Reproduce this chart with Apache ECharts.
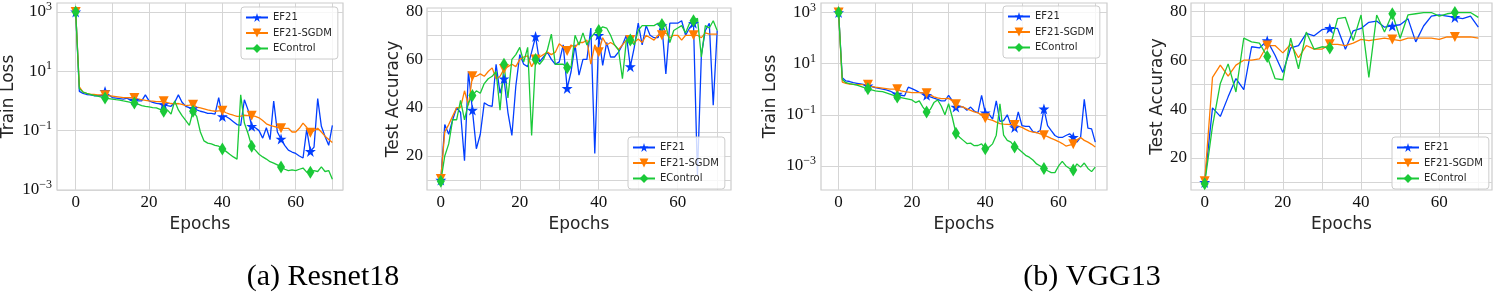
<!DOCTYPE html>
<html>
<head>
<meta charset="utf-8">
<script src="https://cdn.jsdelivr.net/npm/echarts@6/dist/echarts.min.js"></script>
<style>
html, body { margin: 0; padding: 0; background: #fff; }
#main { width: 1498px; height: 295px; }
</style>
</head>
<body>
<div id="main"></div>
<script>
const chartDom = document.getElementById('main');
const myChart = echarts.init(chartDom);

const SERIF = '"Liberation Serif", "DejaVu Serif", serif';
const SANS = '"DejaVu Sans", sans-serif';

// methods and their look
const methods = ['EF21', 'EF21-SGDM', 'EControl'];
const colors = ['#023eff', '#ff7c00', '#1ac938'];
const symbols = [
    'path://M50,0L61.8,35.1L98.9,35.1L68.9,56.8L80.3,91.9L50,70.2L19.7,91.9L31.1,56.8L1.1,35.1L38.2,35.1Z',
    'path://M0,0L10,0L5,9Z',
    'path://M5,0L9,10L5,20L1,10Z'
];
const symbolSizes = [11, 10, [8, 13]];

// tick positions
const epochGrid = [0, 10, 20, 30, 40, 50, 60, 70];
const epochLabels = [0, 20, 40, 60];
const accGrid = [10, 20, 30, 40, 50, 60, 70, 80];
const accLabels = [20, 40, 60, 80];
const lossExpTicks = [-3, -1, 1, 3];

// x values
const epochs = [0, 1, 2, 3, 4, 5, 6, 7, 8, 9, 10, 11, 12, 13, 14, 15, 16, 17, 18, 19, 20,
    21, 22, 23, 24, 25, 26, 27, 28, 29, 30, 31, 32, 33, 34, 35, 36, 37, 38, 39, 40,
    41, 42, 43, 44, 45, 46, 47, 48, 49, 50, 51, 52, 53, 54, 55, 56, 57, 58, 59, 60,
    61, 62, 63, 64, 65, 66, 67, 68, 69, 70];
const epochsEven = [0, 2, 4, 6, 8, 10, 12, 14, 16, 18, 20, 22, 24, 26, 28, 30, 32, 34,
    36, 38, 40, 42, 44, 46, 48, 50, 52, 54, 56, 58, 60, 62, 64, 66, 68, 70];

// (a) Resnet18 - train loss
const resLossEF21 = [1000, 2.1, 1.8, 1.65, 1.6, 1.5, 1.5, 1.5, 2.1, 1.6, 1.3, 1.25, 1.2, 1.15, 1.25, 1.05,
    1.07, 1.0, 1.0, 1.6, 1.0, 0.9, 0.83, 0.8, 0.76, 0.7, 0.66, 0.9, 1.6, 0.9, 0.66, 0.6, 0.56, 0.5,
    0.45, 0.42, 0.38, 0.38, 0.36, 1.3, 0.3, 0.3, 0.25, 0.2, 0.16, 0.15, 1.1, 0.5, 0.14, 0.125, 0.1,
    0.056, 0.125, 0.05, 1.0, 0.09, 0.052, 0.032, 0.022, 0.019, 0.017, 0.014, 0.012, 0.11, 0.02,
    0.028, 1.2, 0.14, 0.063, 0.032, 0.15];
const resLossSGDM = [1000, 3.0, 2.0, 1.8, 1.7, 1.65, 1.6, 1.6, 1.55, 1.5, 1.45, 1.4, 1.35, 1.3, 1.3, 1.28,
    1.25, 1.15, 1.1, 1.05, 1.0, 0.98, 0.95, 0.95, 0.97, 0.88, 0.82, 0.8, 0.82, 0.76, 0.7, 0.72, 0.75,
    0.62, 0.58, 0.54, 0.5, 0.47, 0.45, 0.46, 0.47, 0.4, 0.36, 0.33, 0.3, 0.31, 0.33, 0.32, 0.32, 0.3,
    0.27, 0.22, 0.17, 0.15, 0.14, 0.13, 0.12, 0.12, 0.12, 0.09, 0.09, 0.12, 0.18, 0.13, 0.085, 0.1,
    0.12, 0.09, 0.065, 0.05, 0.04];
const resLossEControl = [1000, 2.6, 2.0, 1.8, 1.65, 1.55, 1.45, 1.35, 1.25, 1.2, 1.15, 1.1, 1.07, 1.0, 0.95,
    0.9, 0.85, 0.78, 0.7, 0.66, 0.63, 0.6, 0.58, 0.52, 0.45, 0.5, 0.36, 1.0, 0.5, 0.32, 0.22, 0.15,
    0.45, 0.3, 0.09, 0.045, 0.038, 0.036, 0.032, 0.03, 0.024, 0.02, 0.016, 0.013, 0.011, 1.6, 0.18,
    0.08, 0.03, 0.022, 0.016, 0.013, 0.011, 0.009, 0.008, 0.007, 0.006, 0.005, 0.0045, 0.0048,
    0.0045, 0.005, 0.0055, 0.004, 0.004, 0.0045, 0.0042, 0.006, 0.0042, 0.0045, 0.0023];

// (a) Resnet18 - test accuracy
const resAccEF21 = [10, 33, 29, 35, 40, 38, 18, 55, 39, 23, 29, 42, 41, 40.5, 58, 46, 52, 38, 28.5, 49,
    62, 58, 57, 63, 69.5, 59, 61, 63, 60, 58, 59, 66, 48, 55, 66, 53.5, 60, 60, 73, 21, 70, 57.5,
    67, 61, 61, 63, 66, 70, 57, 65, 75, 66, 74, 70, 69, 69, 74, 54, 75, 75, 75, 76, 70, 73, 75,
    12, 62, 72, 75, 41, 72];
const resAccSGDM = [10.5, 30, 33, 36.5, 40, 40, 47, 41, 53, 53, 54, 53, 55, 56.5, 52, 53, 56, 57, 58,
    57, 60, 61, 61.5, 57, 60, 61, 62, 63, 62, 63, 66.5, 65, 63.5, 66, 65, 67, 67, 68, 58, 66, 63,
    69, 66, 67, 66, 64, 66, 68, 68, 67, 68.5, 67, 70, 69, 68, 70, 70, 71, 69, 70, 70, 68, 70, 70,
    70, 70, 69, 71, 70.5, 70.5, 70.5];
const resAccEControl = [9.5, 20, 25, 35, 35, 43, 35, 42, 45, 47, 46, 50, 52, 53, 55, 39, 58, 44, 60,
    62, 65, 59, 65, 28.5, 60, 58, 60, 64, 70.5, 58, 58, 58, 56.5, 57, 70, 66, 71, 66, 69, 71, 72,
    73.5, 73, 70, 66, 64, 52, 68, 68, 66, 72, 74, 74, 74, 74, 75, 74.5, 74, 67, 72, 73, 74, 71,
    75, 76, 77, 61, 74, 73, 76, 72];

// (b) VGG13 - train loss
const vggLossEF21 = [1000, 2.8, 2.1, 2.0, 1.8, 1.7, 1.6, 1.5, 1.35, 1.25, 1.16, 1.08, 1.0, 0.95, 0.85,
    0.72, 0.64, 0.58, 0.55, 1.2, 1.05, 0.9, 0.75, 0.7, 0.58, 0.5, 0.45, 0.4, 0.35, 0.35, 0.58, 0.36,
    0.2, 0.21, 0.2, 0.15, 0.2, 0.14, 0.12, 0.57, 0.12, 0.107, 0.068, 0.35, 0.055, 0.059, 0.1, 0.04,
    0.032, 0.13, 0.038, 0.035, 0.035, 0.022, 0.02, 0.025, 0.17, 0.038, 0.024, 0.0155, 0.013, 0.013,
    0.0155, 0.018, 0.0133, 0.0085, 0.0133, 0.4, 0.03, 0.028, 0.0085];
const vggLossSGDM = [1000, 1.9, 1.7, 1.6, 1.55, 1.5, 1.5, 1.5, 1.5, 1.3, 1.2, 1.15, 1.1, 1.05, 1.0, 1.0,
    1.0, 0.86, 0.8, 0.77, 0.74, 0.74, 0.74, 0.72, 0.7, 0.6, 0.5, 0.46, 0.43, 0.43, 0.44, 0.35, 0.26,
    0.22, 0.2, 0.17, 0.15, 0.13, 0.12, 0.095, 0.074, 0.066, 0.06, 0.052, 0.045, 0.043, 0.042, 0.041,
    0.04, 0.036, 0.032, 0.027, 0.023, 0.021, 0.02, 0.018, 0.016, 0.014, 0.012, 0.0105, 0.009,
    0.0075, 0.006, 0.0065, 0.007, 0.0105, 0.013, 0.01, 0.0085, 0.007, 0.0055];
const vggLossEControl = [1000, 2.4, 1.8, 1.65, 1.56, 1.45, 1.3, 1.15, 1.05, 0.95, 0.86, 0.83, 0.8, 0.72,
    0.64, 0.57, 0.5, 0.47, 0.44, 0.41, 0.38, 0.3, 0.35, 0.2, 0.13, 0.16, 0.3, 0.38, 0.22, 0.1, 0.27,
    0.08, 0.019, 0.0133, 0.01, 0.0075, 0.0078, 0.0062, 0.0063, 0.0073, 0.0047, 0.0054, 0.0073,
    0.016, 0.27, 0.016, 0.01, 0.0085, 0.0055, 0.0047, 0.0035, 0.0026, 0.0022, 0.0017, 0.0012,
    0.001, 0.0008, 0.00065, 0.00055, 0.00055, 0.001, 0.0015, 0.001, 0.0008, 0.0007, 0.0012,
    0.0009, 0.0013, 0.0008, 0.0006, 0.0009];

// (b) VGG13 - test accuracy (every second epoch)
const vggAccEF21 = [10, 40.5, 37, 45, 52.5, 48, 65.5, 65, 68, 62, 55, 65, 66, 71, 70, 72.5, 73, 73,
    64.5, 72, 73, 75.5, 76, 73.5, 74, 74.5, 77, 67.5, 74, 78, 78.5, 78, 77.5, 77, 78, 73.5];
const vggAccSGDM = [10.5, 53, 58, 53.5, 58, 60, 60, 60.5, 66, 66, 63, 66.5, 61, 66, 64.5, 64.5, 66.5,
    66.5, 66, 67, 68.5, 68, 68.5, 69, 68.5, 68, 69, 69, 69, 69, 68.5, 69.5, 69.5, 69.5, 69.5, 69];
const vggAccEControl = [9.5, 33, 50.5, 58.5, 47, 69, 67.5, 67, 61.5, 52.5, 52, 69, 56.5, 71.5, 64.5,
    65.5, 65, 77, 77.5, 68, 78.5, 53, 78.5, 71.5, 79, 69, 78.5, 79, 79.5, 79.5, 78, 79, 79.5, 79.5,
    79.5, 77.5];

const panels = [
    { xs: epochs, ys: [resLossEF21, resLossSGDM, resLossEControl], log: true, yName: 'Train Loss',
      box: { left: 57, top: 3, width: 286, height: 187 }, xr: [-5.1, 72.9], yr: [-3, 3.3],
      nameGap: 40, legend: [241, 7] },
    { xs: epochs, ys: [resAccEF21, resAccSGDM, resAccEControl], log: false, yName: 'Test Accuracy',
      box: { left: 427, top: 8, width: 304, height: 182 }, xr: [-3.5, 73.5], yr: [5.9, 81.3],
      nameGap: 24, legend: [628, 137] },
    { xs: epochs, ys: [vggLossEF21, vggLossSGDM, vggLossEControl], log: true, yName: 'Train Loss',
      box: { left: 821, top: 3, width: 286, height: 187 }, xr: [-4.8, 73.2], yr: [-3.94, 3.37],
      nameGap: 42, legend: [1003, 6] },
    { xs: epochsEven, ys: [vggAccEF21, vggAccSGDM, vggAccEControl], log: false, yName: 'Test Accuracy',
      box: { left: 1191, top: 3, width: 301, height: 187 }, xr: [-3.5, 73.5], yr: [6.9, 83.4],
      nameGap: 24, legend: [1392, 137] }
];

const gridLine = { show: true, lineStyle: { color: '#d5d5d5', width: 1 } };
const tickFont = { fontFamily: SERIF, fontSize: 17, color: '#111' };
const nameFont = { fontFamily: SANS, fontSize: 17, color: '#262626' };

const option = {
    animation: false,
    grid: panels.map(p => Object.assign({
        show: true, borderColor: '#cccccc', borderWidth: 1.2, backgroundColor: '#fff',
        containLabel: false, outerBoundsMode: 'none'
    }, p.box)),
    xAxis: panels.map((p, i) => ({
        type: 'value', gridIndex: i, min: p.xr[0], max: p.xr[1],
        name: 'Epochs', nameLocation: 'middle', nameGap: 19, nameTextStyle: nameFont,
        axisLine: { show: false },
        axisTick: { show: false, customValues: epochGrid },
        axisLabel: Object.assign({ customValues: epochLabels, margin: 4 }, tickFont),
        splitLine: gridLine
    })),
    yAxis: panels.map((p, i) => ({
        type: 'value', gridIndex: i, min: p.yr[0], max: p.yr[1],
        name: p.yName, nameLocation: 'middle', nameGap: p.nameGap, nameRotate: 90,
        nameTextStyle: nameFont,
        axisLine: { show: false },
        axisTick: { show: false, customValues: p.log ? lossExpTicks : accGrid },
        axisLabel: p.log ? {
            customValues: lossExpTicks, margin: 5,
            formatter: v => '{b|10}{s|' + (v < 0 ? '\u2212' : '') + Math.abs(v) + '}',
            rich: {
                b: { fontFamily: SERIF, fontSize: 17, color: '#111' },
                s: { fontFamily: SERIF, fontSize: 12, color: '#111', padding: [0, 0, 10, 0] }
            }
        } : Object.assign({ customValues: accLabels, margin: 4 }, tickFont),
        splitLine: gridLine
    })),
    legend: panels.map(p => ({
        orient: 'vertical', left: p.legend[0], top: p.legend[1], data: methods,
        itemWidth: 22, itemHeight: 11, itemGap: 4.5,
        padding: [5, 6, 5, 4],
        backgroundColor: 'rgba(255,255,255,0.8)', borderColor: '#cccccc', borderWidth: 1, borderRadius: 3,
        textStyle: { fontFamily: SANS, fontSize: 10, color: '#262626', lineHeight: 11 },
        selectedMode: false
    })),
    graphic: [
        { type: 'text', x: 323, y: 277, style: { text: '(a) Resnet18', font: '30px "Liberation Serif"', fill: '#000', textAlign: 'center', textVerticalAlign: 'middle' } },
        { type: 'text', x: 1092, y: 277, style: { text: '(b) VGG13', font: '30px "Liberation Serif"', fill: '#000', textAlign: 'center', textVerticalAlign: 'middle' } }
    ],
    series: []
};

panels.forEach((p, gi) => {
    p.ys.forEach((vals, m) => {
        option.series.push({
            name: methods[m],
            type: 'line',
            xAxisIndex: gi,
            yAxisIndex: gi,
            symbol: symbols[m],
            symbolSize: symbolSizes[m],
            showAllSymbol: true,
            color: colors[m],
            lineStyle: { width: 1.3, color: colors[m] },
            itemStyle: { color: colors[m] },
            emphasis: { disabled: true },
            data: vals.map((v, i) => {
                const y = p.log ? Math.log10(v) : v;
                // markers on every 8th point
                return i % 8 === 0 ? [p.xs[i], y] : { value: [p.xs[i], y], symbol: 'none' };
            })
        });
    });
});

myChart.setOption(option);
window.onresize = () => myChart.resize();
</script>
</body>
</html>
